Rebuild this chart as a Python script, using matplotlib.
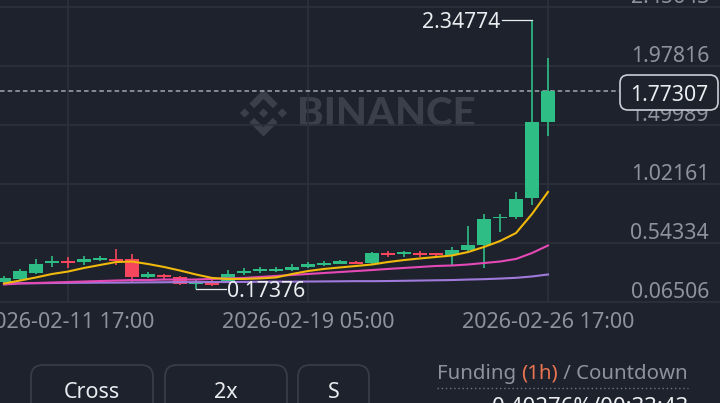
"""
Binance-style 12h candlestick chart with MA(7/25/99) and mobile UI chrome.
Writes out.png (720x403).
"""

import matplotlib
matplotlib.use("Agg")
import matplotlib.pyplot as plt
import matplotlib.transforms as mtransforms
from matplotlib.patches import FancyBboxPatch, Polygon
import numpy as np

plt.rcParams["font.family"] = ["Noto Sans", "DejaVu Sans"]

BG = "#1E222D"
GRID = "#2C313C"
GREEN = "#2EBD85"
RED = "#F6465D"
LABEL = "#8C939D"
WHITE = "#EAECEF"
MA_COLORS = {"MA7": "#F0B90B", "MA25": "#E449B6", "MA99": "#A07ADB"}

# ---- data ----
opens = [0.227, 0.251, 0.298, 0.381, 0.401, 0.392, 0.405, 0.413, 0.411, 0.270,
         0.286, 0.264, 0.207, 0.235, 0.230, 0.298, 0.314, 0.316, 0.328, 0.349,
         0.365, 0.375, 0.393, 0.379, 0.465, 0.452, 0.465, 0.460, 0.446, 0.486,
         0.527, 0.743, 0.751, 0.905, 1.526]
highs = [0.276, 0.332, 0.413, 0.438, 0.427, 0.438, 0.438, 0.491, 0.454, 0.311,
         0.296, 0.272, 0.243, 0.247, 0.324, 0.338, 0.349, 0.349, 0.369, 0.393,
         0.397, 0.405, 0.401, 0.474, 0.478, 0.481, 0.478, 0.466, 0.513, 0.681,
         0.776, 0.778, 0.954, 2.34774, 2.040]
lows = [0.211, 0.243, 0.292, 0.351, 0.341, 0.365, 0.397, 0.365, 0.223, 0.257,
        0.255, 0.199, 0.17376, 0.195, 0.219, 0.284, 0.304, 0.308, 0.320, 0.337,
        0.357, 0.369, 0.369, 0.373, 0.427, 0.432, 0.432, 0.438, 0.365, 0.478,
        0.343, 0.630, 0.735, 0.851, 1.410]
closes = [0.260, 0.316, 0.373, 0.400, 0.385, 0.411, 0.424, 0.395, 0.270, 0.292,
          0.265, 0.207, 0.227, 0.203, 0.292, 0.316, 0.330, 0.334, 0.351, 0.371,
          0.385, 0.396, 0.375, 0.460, 0.448, 0.468, 0.448, 0.446, 0.486, 0.527,
          0.738, 0.756, 0.900, 1.521, 1.77307]

ma7 = [0.215, 0.239, 0.264, 0.292, 0.312, 0.341, 0.365, 0.389, 0.393, 0.373,
       0.349, 0.320, 0.288, 0.260, 0.252, 0.252, 0.256, 0.264, 0.292, 0.316,
       0.333, 0.345, 0.357, 0.369, 0.389, 0.405, 0.418, 0.430, 0.442, 0.470,
       0.511, 0.559, 0.624, 0.778, 0.957]
ma25 = [0.207, 0.215, 0.219, 0.223, 0.227, 0.231, 0.235, 0.239, 0.243, 0.243,
        0.247, 0.247, 0.247, 0.252, 0.256, 0.260, 0.268, 0.276, 0.284, 0.292,
        0.300, 0.308, 0.316, 0.324, 0.333, 0.341, 0.349, 0.357, 0.361, 0.369,
        0.381, 0.393, 0.414, 0.462, 0.523]
ma99 = [0.215, 0.217, 0.217, 0.219, 0.220, 0.221, 0.222, 0.222, 0.223, 0.224,
        0.225, 0.226, 0.226, 0.227, 0.227, 0.228, 0.229, 0.230, 0.230, 0.231,
        0.232, 0.233, 0.234, 0.234, 0.235, 0.237, 0.239, 0.241, 0.243, 0.247,
        0.250, 0.255, 0.261, 0.272, 0.288]

price_ticks = [0.06506, 0.54334, 1.02161, 1.49989, 1.97816, 2.45643]
price_labels = ["0.06506", "0.54334", "1.02161", "1.49989", "1.97816", "2.45643"]
date_idx = [4, 19, 34]
date_labels = ["2026-02-11 17:00", "2026-02-19 05:00", "2026-02-26 17:00"]

last_price = 1.77307
high_price, high_idx = 2.34774, 33
low_price, low_idx = 0.17376, 12

buttons = ["Cross", "2x", "S"]
funding_value = "0.40276%/00:33:43"

# ---- figure / axes ----
W, H = 720, 403
fig = plt.figure(figsize=(W / 100, H / 100), dpi=100, facecolor=BG)

bg_ax = fig.add_axes([0, 0, 1, 1], zorder=0)
bg_ax.set_xlim(0, W)
bg_ax.set_ylim(H, 0)
bg_ax.axis("off")

ax = fig.add_axes([0, 100 / H, 1, 303 / H], zorder=1)
ax.set_facecolor("none")
for s in ax.spines.values():
    s.set_visible(False)
ax.set_xlim(-0.25, 44.75)
ax.set_ylim(0.0570, 2.5124)

top_ax = fig.add_axes([0, 0, 1, 1], zorder=2)
top_ax.set_xlim(0, W)
top_ax.set_ylim(H, 0)
top_ax.axis("off")
top_ax.patch.set_alpha(0)

# grid
ax.set_yticks(price_ticks)
ax.set_xticks(date_idx)
ax.set_xticklabels(date_labels)
ax.tick_params(axis="y", left=False, labelleft=False)
ax.tick_params(axis="x", length=0, pad=6.5, labelsize=15.5, labelcolor=LABEL)
ax.grid(True, color=GRID, linewidth=1.2)
ax.set_axisbelow(True)

# watermark
cx, cy, sc = 263.5, 113, 23.5
wm = "#3A3F4A"
logo = [
    [(0, 1), (0.6, 0.4), (0.4, 0.2), (0, 0.6), (-0.4, 0.2), (-0.6, 0.4)],
    [(0, -1), (0.6, -0.4), (0.4, -0.2), (0, -0.6), (-0.4, -0.2), (-0.6, -0.4)],
    [(0, 0.2), (0.2, 0), (0, -0.2), (-0.2, 0)],
    [(0.8, 0.2), (1.0, 0), (0.8, -0.2), (0.6, 0)],
    [(-0.8, 0.2), (-0.6, 0), (-0.8, -0.2), (-1.0, 0)],
]
for poly in logo:
    pts = [(cx + sc * px, cy - sc * py) for px, py in poly]
    bg_ax.add_patch(Polygon(pts, closed=True, color=wm, lw=0))
bg_ax.text(297, 114, "BINANCE", color=wm, fontsize=29, fontweight=900,
           family=["Lato", "DejaVu Sans"], ha="left", va="center")

# candles
x = np.arange(len(opens))
o, h, l, c = map(np.array, (opens, highs, lows, closes))
up = c >= o
cols = np.where(up, GREEN, RED)
ax.vlines(x, l, h, colors=cols, linewidth=1.2, zorder=3)
body_lo = np.minimum(o, c)
body_h = np.maximum(np.abs(c - o), 0.014)
ax.bar(x, body_h, bottom=body_lo, width=0.84, color=cols, linewidth=0, zorder=3)

# moving averages
for name, vals in (("MA99", ma99), ("MA25", ma25), ("MA7", ma7)):
    ax.plot(x, vals, color=MA_COLORS[name], linewidth=1.5, zorder=4)

# price labels inside the right edge
ytrans = mtransforms.blended_transform_factory(ax.transAxes, ax.transData)
for p, lab in zip(price_ticks, price_labels):
    ax.annotate(lab, xy=(709 / W, p), xycoords=ytrans, xytext=(0, 4),
                textcoords="offset pixels", ha="right", va="baseline",
                color=LABEL, fontsize=15.3, zorder=5)

# last price dashed line + box
ax.plot([-0.25, (619 - 4) / 16], [last_price, last_price], color="#A3A7AE",
        linewidth=1.1, dashes=(3, 2), zorder=2)
top_ax.add_patch(FancyBboxPatch((620, 75), 98, 35,
                                boxstyle="round,pad=0,rounding_size=8",
                                ec="#C9CDD4", fc=BG, lw=1.2))
top_ax.text(669, 93, f"{last_price:.5f}", color=WHITE, fontsize=15.3,
            ha="center", va="center_baseline")

# high / low markers
ax.plot([high_idx, high_idx - 1.9], [high_price, high_price], color=WHITE,
        linewidth=0.9, zorder=5)
ax.annotate(f"{high_price:.5f}", xy=(high_idx - 1.9, high_price),
            xytext=(-1, 0), textcoords="offset pixels", ha="right",
            va="center_baseline", color=WHITE, fontsize=15.3, zorder=5)
ax.plot([low_idx, low_idx + 1.9], [low_price, low_price], color=WHITE,
        linewidth=0.9, zorder=5)
ax.annotate(f"{low_price:.5f}", xy=(low_idx + 1.9, low_price),
            xytext=(1, 0), textcoords="offset pixels", ha="left",
            va="center_baseline", color=WHITE, fontsize=15.3, zorder=5)

# bottom UI
btn_boxes = [(31, 122), (165, 122), (298, 71)]
for (bx, bw), lab in zip(btn_boxes, buttons):
    bg_ax.add_patch(FancyBboxPatch((bx, 365), bw, 70,
                                   boxstyle="round,pad=0,rounding_size=12",
                                   ec="#373C47", fc="none", lw=1.3))
    bg_ax.text(bx + bw / 2, 392, lab, color=WHITE, fontsize=15.5,
               ha="center", va="center")

renderer = fig.canvas.get_renderer()
xpos = 437
for txt, col in (("Funding ", LABEL), ("(1h)", "#E97451"), (" / Countdown", LABEL)):
    t = bg_ax.text(xpos, 379, txt, color=col, fontsize=14.7, ha="left",
                   va="baseline")
    bb = t.get_window_extent(renderer)
    xpos += bb.width
bg_ax.plot([437, xpos], [387.5, 387.5], color="#6E747E", linewidth=1,
           dashes=(1, 2))
bg_ax.text(689, 397, funding_value, color=WHITE, fontsize=16, ha="right",
           va="top")

fig.savefig("out.png", dpi=100, facecolor=BG)
